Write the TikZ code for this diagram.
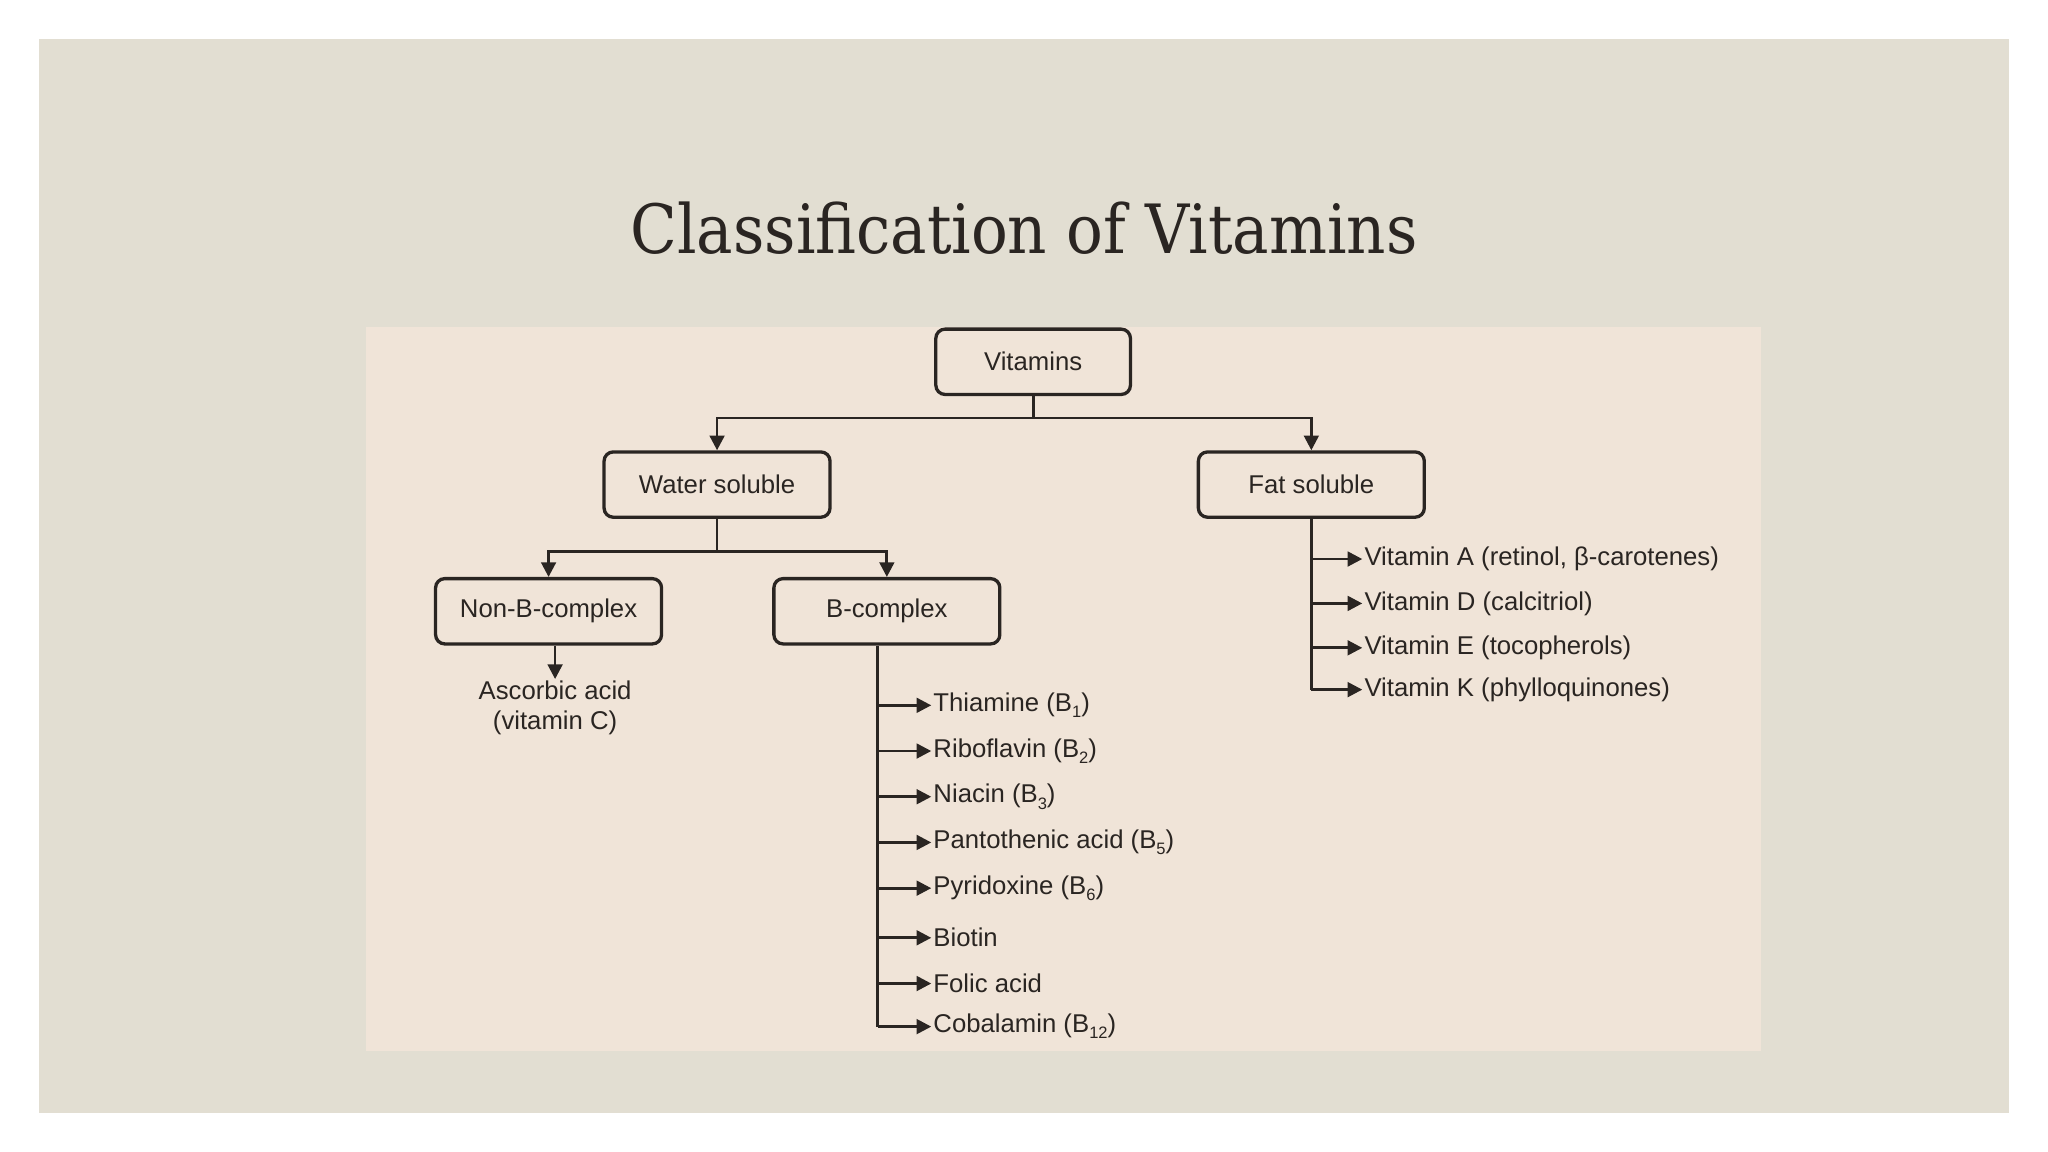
\documentclass[tikz,border=0pt]{standalone}
\usepackage{fontspec}
\setmainfont{Liberation Sans}
\newfontfamily\titlefont{DejaVu Serif Condensed}
\usetikzlibrary{arrows.meta}
\definecolor{outerbg}{HTML}{E2DED2}
\definecolor{innerbg}{HTML}{F0E4D8}
\definecolor{ink}{HTML}{2A2522}
\begin{document}
\begin{tikzpicture}[x=0.025cm,y=-0.025cm,
  box/.style={draw=ink,line width=1.8pt,rounded corners=5pt,fill=innerbg,minimum width=173*0.025cm,minimum height=50*0.025cm,font=\fontsize{14}{16}\selectfont,text=ink},
  lbl/.style={font=\fontsize{14}{16}\selectfont,text=ink,anchor=west,inner sep=1pt},
  ln/.style={draw=ink,line width=1.5pt},
  arr/.style={ln,-{Triangle[length=8pt,width=8pt]}}]
\useasboundingbox (0,0) rectangle (1568,882);
\fill[white] (0,0) rectangle (1568,882);
\fill[outerbg] (30,30) rectangle (1538,852);
\fill[innerbg] (280,250) rectangle (1348,805);
\node[font=\titlefont\fontsize{37}{42}\selectfont,text=ink] (title) at (784,175) {Classification of Vitamins};
\node[box,minimum width=149*0.025cm] (vit) at (791,277) {Vitamins};
\node[box] (water) at (549,371) {Water soluble};
\node[box] (fat) at (1004,371) {Fat soluble};
\node[box] (nonb) at (420,468) {Non-B-complex};
\node[box] (bc) at (679,468) {B-complex};
\node[font=\fontsize{14}{16}\selectfont,text=ink,align=center,inner sep=1pt] (asc) at (425,542) {Ascorbic acid\\(vitamin C)};
\coordinate (v1) at (791,320);
\draw[ln] (vit.south) -- (v1);
\draw[arr] (v1) -| (water.north);
\draw[arr] (v1) -| (fat.north);
\coordinate (w1) at (549,422);
\draw[ln] (water.south) -- (w1);
\draw[arr] (w1) -| (nonb.north);
\draw[arr] (w1) -| (bc.north);
\draw[arr] (nonb.south -| asc.north) -- (asc.north);
\newcommand{\mysub}[1]{\raisebox{-0.45ex}{\fontsize{9}{10}\selectfont #1}}
\foreach \n/\y/\t in {b1/540/{Thiamine (B\mysub{1})},b2/575/{Riboflavin (B\mysub{2})},b3/610/{Niacin (B\mysub{3})},b5/645/{Pantothenic acid (B\mysub{5})},b6/680/{Pyridoxine (B\mysub{6})},b7/718/{Biotin},b9/753/{Folic acid},b12/786/{Cobalamin (B\mysub{12})}}{
  \node[lbl] (\n) at (713,\y) {\t};
  \coordinate (t\n) at (672,\y);
  \draw[arr] (t\n) -- (\n.west);
}
\draw[ln] (bc.south -| tb1) -- (tb12);
\foreach \n/\y/\t in {fa/428/{Vitamin A (retinol, β-carotenes)},fd/462/{Vitamin D (calcitriol)},fe/496/{Vitamin E (tocopherols)},fk/528/{Vitamin K (phylloquinones)}}{
  \node[lbl] (\n) at (1043,\y) {\t};
  \coordinate (t\n) at (1004,\y);
  \draw[arr] (t\n) -- (\n.west);
}
\draw[ln] (fat.south) -- (tfk);
\end{tikzpicture}
\end{document}
